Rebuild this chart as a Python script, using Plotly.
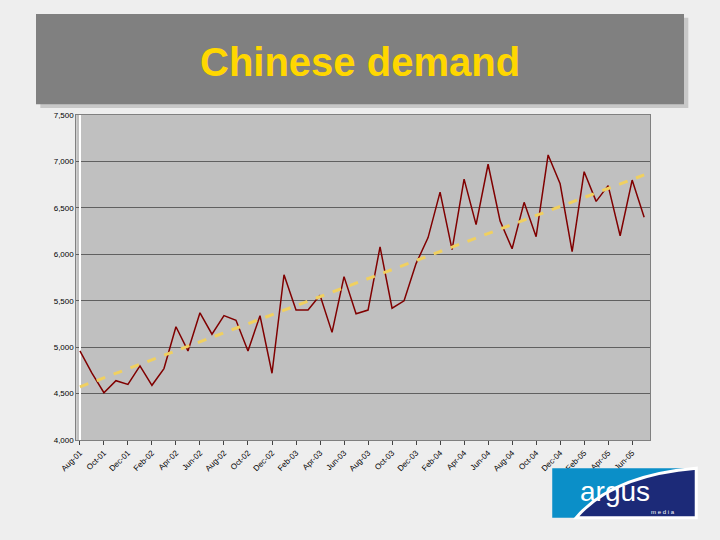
import numpy as np
import plotly.graph_objects as go

months = ["Aug-01", "Sep-01", "Oct-01", "Nov-01", "Dec-01",
          "Jan-02", "Feb-02", "Mar-02", "Apr-02", "May-02", "Jun-02", "Jul-02",
          "Aug-02", "Sep-02", "Oct-02", "Nov-02", "Dec-02",
          "Jan-03", "Feb-03", "Mar-03", "Apr-03", "May-03", "Jun-03", "Jul-03",
          "Aug-03", "Sep-03", "Oct-03", "Nov-03", "Dec-03",
          "Jan-04", "Feb-04", "Mar-04", "Apr-04", "May-04", "Jun-04", "Jul-04",
          "Aug-04", "Sep-04", "Oct-04", "Nov-04", "Dec-04",
          "Jan-05", "Feb-05", "Mar-05", "Apr-05", "May-05", "Jun-05", "Jul-05"]
demand = [4960, 4720, 4510, 4640, 4600,
          4800, 4590, 4770, 5220, 4960, 5370, 5140,
          5340, 5290, 4960, 5340, 4720,
          5780, 5400, 5400, 5560, 5160, 5760, 5360,
          5400, 6080, 5420, 5500, 5900,
          6180, 6670, 6050, 6810, 6320, 6970, 6360,
          6060, 6560, 6190, 7070, 6760,
          6030, 6890, 6570, 6740, 6200, 6800, 6400]
tick_labels = months[::2]

# linear trend through the monthly figures
idx = np.arange(len(demand))
slope, icpt = np.polyfit(idx, demand, 1)
trend = slope * idx + icpt

fig = go.Figure()
fig.add_trace(go.Scatter(x=idx, y=demand, mode="lines",
                         line=dict(color="#800000", width=1.5)))
fig.add_trace(go.Scatter(x=idx, y=trend, mode="lines",
                         line=dict(color="#f0d060", width=3, dash="dash")))

fig.update_layout(
    width=720, height=540, showlegend=False,
    margin=dict(l=0, r=0, t=0, b=0),
    paper_bgcolor="#eeeeee", plot_bgcolor="#c0c0c0",
    font=dict(family="Liberation Sans, Arial", size=8, color="black"),
    xaxis=dict(domain=[0.106, 0.903], range=[-0.3, 47.5], automargin=False,
               tickmode="array", tickvals=idx[::2], ticktext=tick_labels,
               tickangle=-45, showgrid=False, ticks="outside", ticklen=4,
               showline=True, linecolor="#808080", mirror=True),
    yaxis=dict(domain=[0.185, 0.787], range=[4000, 7500], dtick=500,
               automargin=False, tickformat=",", showgrid=True,
               gridcolor="#606060",
               showline=True, linecolor="#808080", mirror=True),
    shapes=[
        dict(type="rect", xref="paper", yref="paper", x0=0.056, x1=0.956,
             y0=0.800, y1=0.967, fillcolor="#c8c8c8", line_width=0),
        dict(type="rect", xref="paper", yref="paper", x0=0.05, x1=0.95,
             y0=0.807, y1=0.974, fillcolor="#808080", line_width=0),
        dict(type="rect", xref="paper", yref="paper", x0=0.767, x1=0.967,
             y0=0.041, y1=0.133, fillcolor="#0b8fc8", line_width=0),
        dict(type="path", xref="paper", yref="paper",
             path="M 0.80 0.041 Q 0.85 0.12 0.967 0.133 L 0.967 0.041 Z",
             fillcolor="#1c2a78", line=dict(color="white", width=3)),
    ],
    annotations=[
        dict(text="<b>Chinese demand</b>", xref="paper", yref="paper",
             x=0.5, y=0.885, yanchor="middle", showarrow=False,
             font=dict(size=40, color="#ffd700", family="Liberation Sans, Arial")),
        dict(text="argus", xref="paper", yref="paper", x=0.905, y=0.09,
             yanchor="middle", showarrow=False,
             font=dict(size=28, color="white")),
        dict(text="m e d i a", xref="paper", yref="paper", x=0.94, y=0.052,
             yanchor="middle", showarrow=False,
             font=dict(size=6, color="white")),
    ],
)

fig.write_html("out.html", config={"displayModeBar": False},
               post_script="document.body.style.margin='0';")
